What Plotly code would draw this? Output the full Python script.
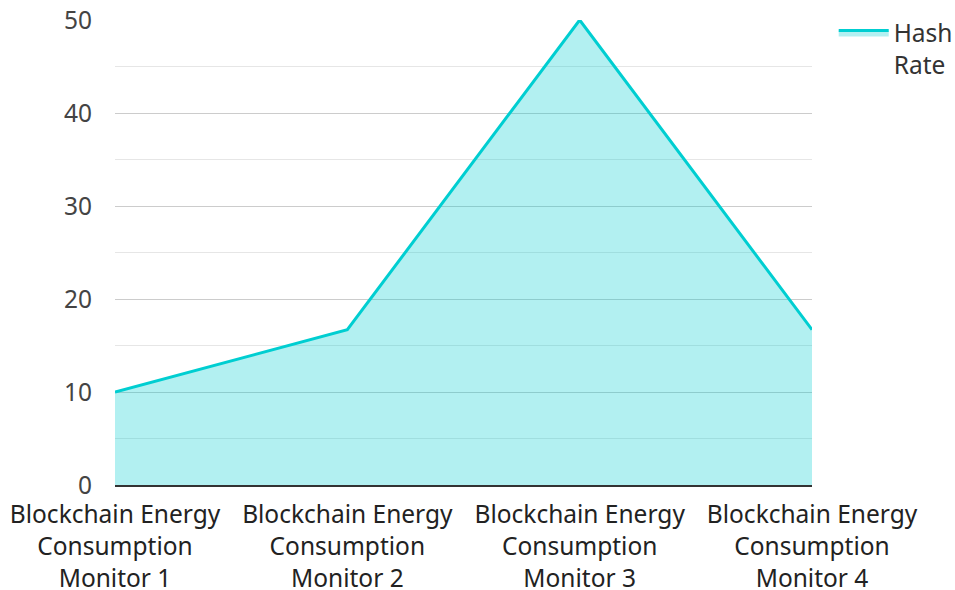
import plotly.graph_objects as go

categories = [
    "Blockchain Energy<br>Consumption<br>Monitor 1",
    "Blockchain Energy<br>Consumption<br>Monitor 2",
    "Blockchain Energy<br>Consumption<br>Monitor 3",
    "Blockchain Energy<br>Consumption<br>Monitor 4",
]
hash_rate = [10, 16.7, 50, 16.7]
y_ticks = [0, 10, 20, 30, 40, 50]

line_color = "#00CED1"
fill_color = "rgba(0,206,209,0.3)"
font_family = "Noto Sans, Open Sans, sans-serif"
font_size = 24.5

fig = go.Figure()
fig.add_trace(go.Scatter(
    x=list(range(len(categories))),
    y=hash_rate,
    name="Hash<br>Rate",
    mode="lines",
    line=dict(color=line_color, width=3),
    fill="tozeroy",
    fillcolor=fill_color,
))

fig.update_layout(
    width=955,
    height=590,
    margin=dict(l=115, r=143, t=20, b=105, autoexpand=False),
    paper_bgcolor="white",
    plot_bgcolor="white",
    font=dict(family=font_family, size=font_size, color="#444"),
    showlegend=True,
    legend=dict(
        xref="container", yref="container",
        x=0.873, y=0.983, xanchor="left", yanchor="top",
        valign="top",
        font=dict(size=font_size, color="#333"),
        bgcolor="rgba(0,0,0,0)",
        itemwidth=50,
    ),
    xaxis=dict(
        range=[0, len(categories) - 1],
        tickmode="array",
        tickvals=list(range(len(categories))),
        ticktext=categories,
        showgrid=False,
        zeroline=False,
        showline=True,
        linecolor="#333",
        linewidth=2,
        ticks="",
        automargin=False,
        ticklabelstandoff=7,
        tickfont=dict(size=font_size, color="#222"),
    ),
    yaxis=dict(
        range=[0, 50],
        tickvals=y_ticks,
        showgrid=True,
        gridcolor="#cccccc",
        gridwidth=1,
        zeroline=False,
        showline=False,
        ticks="",
        automargin=False,
        ticklabelstandoff=22,
        tickfont=dict(size=font_size, color="#444"),
        minor=dict(dtick=5, showgrid=True, gridcolor="#e6e6e6", gridwidth=1),
    ),
)

fig.write_html("out.html")
